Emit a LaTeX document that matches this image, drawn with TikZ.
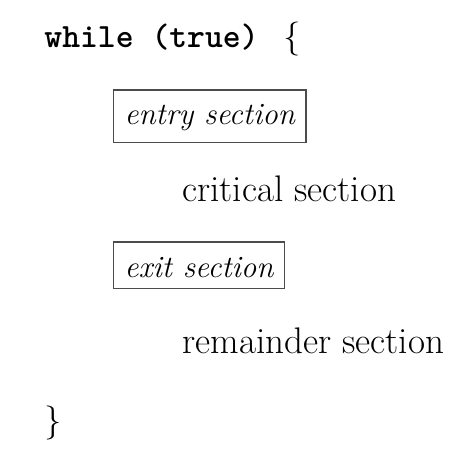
\documentclass[tikz,border=0pt]{standalone}
\usepackage{fontspec}
\tikzset{
  line/.style={font=\fontsize{18.5}{22}\selectfont, inner sep=0pt, anchor=base west},
  code/.style={line, font=\fontsize{17}{20}\selectfont\ttfamily\bfseries},
  brace/.style={line, font=\fontsize{17}{20}\selectfont},
  sectionbox/.style={line, draw=black!70, line width=0.7pt, inner xsep=5.5pt, inner ysep=5.5pt,
    text height=12pt, font=\fontsize{15.5}{20}\selectfont\itshape}
}
\begin{document}
\begin{tikzpicture}[x=0.5pt, y=-0.5pt]
    \useasboundingbox (0,0) rectangle (474,469);
    % loop head
    \node[code] (loop) at (44,48) {while (true)};
    \node[brace] (open) at (283,48) {\{};
    % sections
    \node[sectionbox] (entry) at (113,125) {entry section};
    \node[line] (critical) at (182,202) {critical section};
    \node[sectionbox] (exit) at (113,277) {exit section};
    \node[line] (remainder) at (182,353) {remainder section};
    % closing brace
    \node[brace] (close) at (44,431) {\}};
\end{tikzpicture}
\end{document}
